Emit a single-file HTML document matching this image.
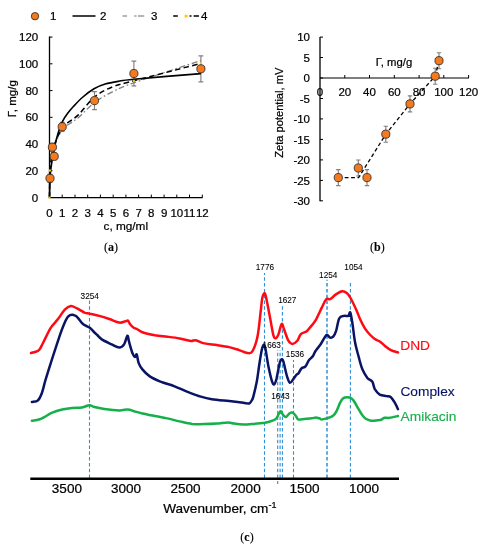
<!DOCTYPE html>
<html><head><meta charset="utf-8">
<style>
html,body{margin:0;padding:0;background:#fff;}
svg{display:block;}
text{font-family:"Liberation Sans",sans-serif;fill:#000;stroke:#000;stroke-width:0.22px;}
.cap{font-family:"Liberation Serif",serif;font-size:12px;stroke-width:0.1px;}
.t{font-size:11.5px;}
.u{font-size:12.9px;}
.s{font-size:8.4px;stroke-width:0.08px;}
.l{font-size:13px;stroke-width:0.12px;}
</style></head><body>
<svg width="484" height="550" viewBox="0 0 484 550">
<rect width="484" height="550" fill="#fff"/>
<g id="pa">
<circle cx="35" cy="16.2" r="3.7" fill="#f47a20" stroke="#222" stroke-width="0.8"/>
<text class="t" x="50" y="20.3">1</text>
<line x1="72.5" y1="16" x2="95.5" y2="16" stroke="#000" stroke-width="1.5"/>
<text class="t" x="100" y="20.3">2</text>
<path d="M122.5 16H127M134.3 16H136.5M138 16H144.2" stroke="#6e6e6e" stroke-width="1.2" fill="none"/>
<text class="t" x="151" y="20.3">3</text>
<path d="M173.2 16H177.8M189.5 16H191.5M193.6 16H199" stroke="#000" stroke-width="1.5" fill="none"/>
<rect x="184.6" y="14.7" width="3" height="2.8" fill="#fc0"/>
<text class="t" x="201" y="20.3">4</text>
<g stroke="#000" stroke-width="1.3" fill="none">
<path d="M49.5 36.5V197.6H202.6"/>
</g><g stroke="#000" stroke-width="1" fill="none">
<path d="M49.5 170.8h3M49.5 144.1h3M49.5 117.3h3M49.5 90.6h3M49.5 63.8h3M49.5 37.1h3M62.2 197.6v-3M75.0 197.6v-3M87.7 197.6v-3M100.4 197.6v-3M113.2 197.6v-3M125.9 197.6v-3M138.6 197.6v-3M151.3 197.6v-3M164.1 197.6v-3M176.8 197.6v-3M189.5 197.6v-3M202.3 197.6v-3"/>
</g>
<g text-anchor="end">
<text class="t" x="38.2" y="201.7">0</text>
<text class="t" x="38.2" y="174.9">20</text>
<text class="t" x="38.2" y="148.2">40</text>
<text class="t" x="38.2" y="121.4">60</text>
<text class="t" x="38.2" y="94.7">80</text>
<text class="t" x="38.2" y="67.9">100</text>
<text class="t" x="38.2" y="41.2">120</text>
</g><g text-anchor="middle">
<text class="t" x="49.5" y="216.7">0</text>
<text class="t" x="62.2" y="216.7">1</text>
<text class="t" x="75.0" y="216.7">2</text>
<text class="t" x="87.7" y="216.7">3</text>
<text class="t" x="100.4" y="216.7">4</text>
<text class="t" x="113.2" y="216.7">5</text>
<text class="t" x="125.9" y="216.7">6</text>
<text class="t" x="138.6" y="216.7">7</text>
<text class="t" x="151.3" y="216.7">8</text>
<text class="t" x="164.1" y="216.7">9</text>
<text class="t" x="176.8" y="216.7">10</text>
<text class="t" x="189.5" y="216.7">11</text>
<text class="t" x="202.3" y="216.7">12</text>
</g>
<text class="t" x="125.8" y="230.1" text-anchor="middle" style="font-size:11.8px">c, mg/ml</text>
<text class="t" transform="translate(16.2 98.7) rotate(-90)" text-anchor="middle">Γ, mg/g</text>
<text class="cap" x="111" y="251" text-anchor="middle">(<tspan font-weight="bold">a</tspan>)</text>
<g stroke="#808080" stroke-width="1.15" fill="none">
<path d="M50.0 174.3V182.3M47.6 174.3h4.8M47.6 182.3h4.8"/>
<path d="M52.4 143.2V151.2M50.0 143.2h4.8M50.0 151.2h4.8"/>
<path d="M54.2 153.4V159.4M51.8 153.4h4.8M51.8 159.4h4.8"/>
<path d="M62.2 122.3V131.3M59.8 122.3h4.8M59.8 131.3h4.8"/>
<path d="M94.5 91.6V109.6M92.1 91.6h4.8M92.1 109.6h4.8"/>
<path d="M133.9 61.1V85.9M131.5 61.1h4.8M131.5 85.9h4.8"/>
<path d="M200.9 55.8V81.8M198.5 55.8h4.8M198.5 81.8h4.8"/>
</g>
<path d="M49.5 197.6C49.6 193.3 49.5 179.6 50.0 172.0C50.5 164.4 51.7 156.3 52.4 152.0C53.1 147.7 52.6 149.8 54.2 146.0C55.8 142.2 59.6 133.2 62.2 129.5C64.8 125.8 67.3 125.5 70.0 123.5C72.7 121.5 74.5 120.9 78.6 117.4C82.7 113.9 88.7 106.9 94.5 102.5C100.3 98.1 107.0 94.5 113.6 91.2C120.2 87.9 119.4 87.9 133.9 82.8C148.5 77.7 189.7 64.2 200.9 60.5" fill="none" stroke="#7f7f7f" stroke-width="1.25" stroke-dasharray="6 2.6 1.6 2.6"/>
<path d="M49.5 197.6C49.6 193.1 49.5 178.3 50.0 170.5C50.5 162.7 51.7 155.2 52.4 151.0C53.1 146.8 52.6 148.9 54.2 145.0C55.8 141.1 59.6 131.5 62.2 127.5C64.8 123.5 67.3 123.4 70.0 121.2C72.7 119.0 74.5 118.6 78.6 114.6C82.7 110.6 88.9 101.6 94.5 97.0C100.1 92.4 105.8 89.6 112.4 86.9C119.0 84.2 119.2 84.7 133.9 80.8C148.7 76.9 189.7 66.3 200.9 63.4" fill="none" stroke="#000" stroke-width="1.5" stroke-dasharray="5.5 3.3"/>
<path d="M49.5 197.6C49.6 194.3 49.8 182.9 50.0 178.0C50.2 173.1 50.6 171.3 51.0 168.0C51.4 164.7 51.8 161.8 52.5 158.0C53.2 154.2 54.1 149.1 55.0 145.0C55.9 140.9 56.8 137.4 58.0 133.5C59.2 129.6 60.8 124.9 62.4 121.6C64.0 118.3 65.6 116.1 67.5 113.6C69.4 111.0 71.0 109.1 73.6 106.3C76.2 103.5 79.5 99.9 82.9 97.0C86.3 94.1 90.3 91.0 94.0 88.8C97.7 86.6 101.2 85.3 105.2 84.1C109.2 82.9 113.4 82.2 118.2 81.4C123.0 80.6 120.1 80.5 133.9 79.2C147.7 77.9 189.7 74.5 200.9 73.6" fill="none" stroke="#000" stroke-width="1.6"/>
<rect x="48.5" y="196.6" width="2" height="2" fill="#fc0"/>
<rect x="49.0" y="169.5" width="2" height="2" fill="#fc0"/>
<rect x="51.4" y="150.0" width="2" height="2" fill="#fc0"/>
<rect x="53.2" y="144.0" width="2" height="2" fill="#fc0"/>
<rect x="61.2" y="126.5" width="2" height="2" fill="#fc0"/>
<rect x="93.5" y="96.0" width="2" height="2" fill="#fc0"/>
<rect x="132.9" y="79.8" width="2" height="2" fill="#fc0"/>
<rect x="199.9" y="62.4" width="2" height="2" fill="#fc0"/>
<circle cx="50.0" cy="178.3" r="4.1" fill="#f47a20" stroke="#222" stroke-width="0.8"/>
<circle cx="52.4" cy="147.2" r="4.1" fill="#f47a20" stroke="#222" stroke-width="0.8"/>
<circle cx="54.2" cy="156.4" r="4.1" fill="#f47a20" stroke="#222" stroke-width="0.8"/>
<circle cx="62.2" cy="126.8" r="4.1" fill="#f47a20" stroke="#222" stroke-width="0.8"/>
<circle cx="94.5" cy="100.6" r="4.1" fill="#f47a20" stroke="#222" stroke-width="0.8"/>
<circle cx="133.9" cy="73.5" r="4.1" fill="#f47a20" stroke="#222" stroke-width="0.8"/>
<circle cx="200.9" cy="68.8" r="4.1" fill="#f47a20" stroke="#222" stroke-width="0.8"/>
</g>
<g id="pb">
<g stroke="#000" stroke-width="1.3" fill="none">
<path d="M320.0 37V201.2"/><path d="M320.0 78.0H469" stroke-width="1.05"/>
</g><g stroke="#000" stroke-width="1" fill="none">
<path d="M320.0 200.8h3M320.0 180.4h3M320.0 159.9h3M320.0 139.4h3M320.0 118.9h3M320.0 98.5h3M320.0 78.0h3M320.0 57.5h3M320.0 37.1h3M344.8 78.0v-3M369.5 78.0v-3M394.3 78.0v-3M419.1 78.0v-3M443.8 78.0v-3M468.6 78.0v-3"/>
</g>
<g text-anchor="end">
<text class="t" x="310" y="204.9">-30</text>
<text class="t" x="310" y="184.5">-25</text>
<text class="t" x="310" y="164.0">-20</text>
<text class="t" x="310" y="143.5">-15</text>
<text class="t" x="310" y="123.0">-10</text>
<text class="t" x="310" y="102.6">-5</text>
<text class="t" x="310" y="82.1">0</text>
<text class="t" x="310" y="61.6">5</text>
<text class="t" x="310" y="41.2">10</text>
</g><g text-anchor="middle">
<text class="t" x="320.0" y="95.6">0</text>
<text class="t" x="344.8" y="95.6">20</text>
<text class="t" x="369.5" y="95.6">40</text>
<text class="t" x="394.3" y="95.6">60</text>
<text class="t" x="419.1" y="95.6">80</text>
<text class="t" x="443.8" y="95.6">100</text>
<text class="t" x="468.6" y="95.6">120</text>
</g>
<text class="t" x="375.8" y="65.6" style="font-size:11.3px">Γ, mg/g</text>
<text class="t" transform="translate(282.8 112.7) rotate(-90)" text-anchor="middle" style="font-size:11.1px">Zeta potential, mV</text>
<text class="cap" x="377.3" y="251.2" text-anchor="middle">(<tspan font-weight="bold">b</tspan>)</text>
<g stroke="#808080" stroke-width="1.15" fill="none">
<path d="M338.3 169.6V185.6M336.1 169.6h4.4M336.1 185.6h4.4"/>
<path d="M358.3 160.0V176.0M356.1 160.0h4.4M356.1 176.0h4.4"/>
<path d="M367.0 169.6V185.6M364.8 169.6h4.4M364.8 185.6h4.4"/>
<path d="M385.8 126.2V142.2M383.6 126.2h4.4M383.6 142.2h4.4"/>
<path d="M410.0 95.9V111.9M407.8 95.9h4.4M407.8 111.9h4.4"/>
<path d="M435.2 68.2V84.2M433.0 68.2h4.4M433.0 84.2h4.4"/>
<path d="M439.0 52.7V68.7M436.8 52.7h4.4M436.8 68.7h4.4"/>
</g>
<path d="M338.3 177.6L358.6 177.6L385.8 134.2L410.0 103.9L435.2 76.2L439.0 60.7" fill="none" stroke="#000" stroke-width="1.3" stroke-dasharray="3.8 2.6"/>
<circle cx="338.3" cy="177.6" r="4.1" fill="#f47a20" stroke="#222" stroke-width="0.8"/>
<circle cx="358.3" cy="168.0" r="4.1" fill="#f47a20" stroke="#222" stroke-width="0.8"/>
<circle cx="367.0" cy="177.6" r="4.1" fill="#f47a20" stroke="#222" stroke-width="0.8"/>
<circle cx="385.8" cy="134.2" r="4.1" fill="#f47a20" stroke="#222" stroke-width="0.8"/>
<circle cx="410.0" cy="103.9" r="4.1" fill="#f47a20" stroke="#222" stroke-width="0.8"/>
<circle cx="435.2" cy="76.2" r="4.1" fill="#f47a20" stroke="#222" stroke-width="0.8"/>
<circle cx="439.0" cy="60.7" r="4.1" fill="#f47a20" stroke="#222" stroke-width="0.8"/>
</g>
<g id="pc">
<g stroke="#2f8fd6" stroke-width="1.1" stroke-dasharray="3.5 2.3" fill="none">
<path d="M89.5 478.0V300.0"/>
<path d="M264.5 478.0V273.0"/>
<path d="M277.7 478.0V350.0"/>
<path d="M280.1 478.0V350.0"/>
<path d="M282.4 478.0V306.0"/>
<path d="M293.5 478.0V360.0"/>
<path d="M350.4 478.0V282.0"/>
<path d="M277.7 481V484"/><path d="M327 478V279.8" stroke-width="1.5"/>
</g>
<path d="M31.9 420.8C33.2 420.6 37.6 420.0 39.8 419.3C41.9 418.6 42.7 418.0 44.8 416.9C46.9 415.8 49.3 413.8 52.2 412.6C55.1 411.4 58.9 410.3 62.2 409.5C65.5 408.7 68.7 408.3 72.0 408.0C75.3 407.7 79.1 408.0 82.0 407.5C84.9 407.0 87.3 405.3 89.4 405.2C91.5 405.1 91.9 406.4 94.4 407.0C96.9 407.6 100.2 408.3 104.3 408.9C108.4 409.5 115.3 410.3 119.2 410.4C123.1 410.5 125.4 409.3 127.9 409.4C130.4 409.5 131.6 410.5 134.0 411.2C136.4 411.9 138.9 412.7 142.4 413.5C145.9 414.3 150.7 415.2 154.8 416.0C158.9 416.8 163.1 417.5 167.2 418.4C171.3 419.3 175.5 420.5 179.6 421.4C183.7 422.3 187.9 423.4 192.0 423.9C196.1 424.3 200.3 424.2 204.4 424.1C208.5 424.1 212.9 423.9 216.8 423.6C220.7 423.3 225.1 422.4 228.0 422.4C230.9 422.4 231.3 423.2 234.0 423.6C236.7 424.0 240.9 424.5 244.0 424.6C247.1 424.7 248.9 424.3 252.4 424.0C255.9 423.7 261.5 423.2 264.8 422.7C268.1 422.1 270.2 421.4 272.2 420.7C274.1 420.0 275.1 419.9 276.5 418.3C277.9 416.7 279.2 411.9 280.3 411.3C281.4 410.7 282.1 413.9 283.0 414.8C283.9 415.8 284.8 417.2 285.9 417.0C287.0 416.8 288.5 414.0 289.6 413.3C290.7 412.6 291.6 412.2 292.6 412.6C293.6 413.0 294.9 414.7 295.8 415.8C296.8 416.9 296.9 419.0 298.3 419.5C299.8 420.0 302.2 419.2 304.5 419.0C306.8 418.8 310.0 418.6 311.9 418.3C313.8 418.1 314.4 417.5 315.6 417.5C316.8 417.5 318.3 418.0 319.3 418.3C320.3 418.6 320.6 419.5 321.8 419.5C323.1 419.5 324.9 418.9 326.8 418.3C328.7 417.7 331.4 417.1 333.0 415.8C334.6 414.6 335.5 413.1 336.7 410.8C337.9 408.5 339.3 404.3 340.4 402.2C341.5 400.1 342.1 399.0 343.2 398.2C344.3 397.4 345.6 397.2 347.0 397.2C348.4 397.2 350.1 397.4 351.3 398.2C352.6 399.0 353.5 400.5 354.5 402.0C355.5 403.5 356.5 405.6 357.5 407.3C358.5 409.0 359.6 410.9 360.5 412.3C361.4 413.8 362.1 414.9 363.0 416.0C363.9 417.1 364.5 418.0 365.8 418.8C367.1 419.6 369.1 420.4 371.0 420.7C372.9 420.9 375.5 420.5 377.2 420.3C378.9 420.1 380.1 420.1 381.3 419.7C382.5 419.3 383.0 418.1 384.4 417.8C385.8 417.5 387.3 418.1 389.6 417.8C391.9 417.5 396.6 416.3 398.0 416.0" fill="none" stroke="#16b04a" stroke-width="2.5" stroke-linejoin="round" stroke-linecap="round"/>
<path d="M31.9 402.0C32.9 401.7 36.4 401.8 38.0 400.3C39.6 398.9 40.5 396.7 41.8 393.3C43.1 389.9 44.1 384.6 45.6 379.7C47.1 374.8 49.0 368.7 50.6 363.6C52.2 358.5 53.6 354.1 55.2 349.3C56.8 344.5 58.6 338.9 60.0 334.8C61.4 330.7 62.5 327.8 63.7 324.9C64.9 322.0 66.4 319.0 67.4 317.4C68.5 315.8 69.2 315.6 70.0 315.2C70.8 314.8 71.6 314.6 72.4 314.7C73.2 314.8 74.0 315.1 74.8 315.5C75.6 315.9 76.2 316.0 77.4 317.3C78.7 318.6 80.9 322.0 82.3 323.4C83.7 324.8 84.8 325.2 86.0 325.9C87.2 326.6 88.5 326.9 89.8 327.8C91.0 328.7 92.3 330.3 93.5 331.5C94.7 332.7 95.8 333.7 97.2 335.0C98.6 336.3 99.4 337.8 101.8 339.4C104.2 341.0 108.8 343.0 111.7 344.4C114.6 345.8 117.1 347.6 119.2 347.6C121.3 347.6 122.7 346.4 124.1 344.4C125.5 342.4 126.6 336.1 127.4 335.7C128.2 335.3 128.2 339.0 129.1 341.9C129.9 344.8 131.5 350.8 132.5 353.3C133.5 355.8 134.3 356.8 135.0 357.0C135.7 357.2 136.1 353.5 136.7 354.5C137.3 355.5 137.8 360.7 138.7 363.2C139.6 365.7 140.6 367.2 142.4 369.4C144.2 371.6 146.9 374.4 149.8 376.4C152.7 378.4 155.7 379.6 159.8 381.3C163.9 383.0 170.1 384.6 174.6 386.3C179.1 388.0 182.9 390.1 187.0 391.7C191.1 393.3 195.3 394.9 199.4 396.2C203.5 397.4 206.8 398.4 211.8 399.2C216.8 400.0 224.2 400.4 229.2 400.9C234.2 401.4 238.8 402.0 241.6 402.4C244.4 402.8 244.7 403.0 246.0 403.2C247.3 403.4 248.5 403.9 249.5 403.4C250.5 402.9 251.3 401.3 252.0 400.0C252.7 398.7 252.8 398.8 253.6 395.6C254.4 392.4 255.9 386.1 256.9 380.9C257.8 375.7 258.5 369.7 259.3 364.5C260.1 359.3 261.1 353.1 261.8 349.8C262.5 346.6 263.0 345.2 263.6 345.0C264.2 344.8 264.6 344.9 265.4 348.5C266.2 352.1 267.4 361.4 268.5 366.7C269.6 372.0 270.8 377.3 271.7 380.3C272.6 383.3 273.2 384.8 274.0 384.6C274.8 384.4 275.4 382.7 276.4 379.1C277.3 375.5 278.8 366.3 279.7 363.0C280.6 359.7 281.1 359.5 281.7 359.3C282.3 359.1 282.5 358.8 283.4 361.7C284.3 364.6 286.0 373.1 287.1 376.6C288.2 380.1 288.9 382.4 289.9 382.8C290.9 383.2 292.1 380.7 293.2 379.3C294.3 377.9 295.7 375.6 296.6 374.6C297.5 373.6 297.8 374.2 298.6 373.2C299.4 372.2 300.2 369.6 301.4 368.5C302.5 367.4 304.2 367.7 305.5 366.3C306.8 364.9 307.6 362.0 308.9 360.3C310.1 358.6 311.9 357.6 313.0 356.0C314.1 354.4 314.4 352.7 315.7 350.8C316.9 348.9 319.0 346.7 320.5 344.5C322.0 342.3 323.4 339.4 324.5 337.8C325.6 336.2 326.1 334.7 327.0 334.7C327.9 334.7 328.9 337.3 330.0 337.6C331.1 337.9 332.4 337.4 333.4 336.3C334.4 335.2 335.1 333.9 336.1 330.9C337.1 327.9 337.9 321.0 339.2 318.5C340.5 316.0 342.6 316.3 344.1 315.9C345.6 315.5 347.4 316.4 348.4 315.9C349.4 315.3 349.6 311.2 350.3 312.6C351.0 314.0 351.7 319.1 352.5 324.0C353.3 328.9 354.0 336.5 355.0 342.0C356.0 347.5 357.5 352.3 358.7 356.9C359.9 361.4 360.9 365.8 362.4 369.3C363.8 372.8 365.8 375.8 367.4 377.9C369.0 380.0 371.1 379.8 372.3 381.7C373.5 383.6 373.6 387.0 374.8 389.1C376.1 391.2 377.9 393.4 379.8 394.6C381.8 395.8 384.7 395.7 386.5 396.1C388.3 396.5 389.2 395.8 390.6 396.9C392.0 398.0 393.6 400.6 394.8 402.7C396.0 404.8 397.5 408.1 398.0 409.2" fill="none" stroke="#0a1464" stroke-width="2.5" stroke-linejoin="round" stroke-linecap="round"/>
<path d="M31.0 353.0C31.8 352.8 34.2 352.3 35.6 351.8C37.0 351.3 38.1 351.3 39.3 349.8C40.5 348.3 41.1 346.6 43.0 343.0C44.9 339.4 48.0 332.2 50.4 328.3C52.8 324.4 55.2 322.7 57.6 319.6C60.0 316.5 62.6 312.0 64.8 309.7C67.0 307.4 68.8 306.2 70.8 306.0C72.8 305.8 74.7 307.3 77.0 308.4C79.3 309.5 82.4 311.7 84.5 312.6C86.6 313.5 86.9 313.1 89.4 313.6C91.9 314.2 96.0 315.0 99.3 315.9C102.6 316.8 106.0 317.9 109.3 319.0C112.6 320.1 116.5 322.2 119.2 322.6C121.9 323.0 124.0 321.6 125.4 321.3C126.9 321.0 127.1 320.1 127.9 320.6C128.7 321.1 129.3 323.3 130.3 324.5C131.3 325.7 132.5 327.0 133.7 327.8C134.9 328.6 135.9 328.6 137.4 329.3C138.9 330.0 139.5 331.2 142.4 332.2C145.3 333.2 150.7 334.4 154.8 335.2C158.9 335.9 163.1 336.2 167.2 336.7C171.3 337.2 175.7 337.7 179.6 338.4C183.5 339.1 188.0 340.6 190.7 340.9C193.4 341.2 193.4 339.8 195.7 340.2C198.0 340.6 200.9 342.6 204.4 343.4C207.9 344.2 212.7 344.5 216.8 345.1C220.9 345.7 225.5 346.3 229.2 347.1C232.9 347.9 236.1 349.1 239.1 350.1C242.1 351.1 245.2 352.8 247.4 353.0C249.6 353.2 250.7 354.0 252.4 351.3C254.1 348.6 256.0 343.5 257.4 337.0C258.8 330.5 259.8 318.6 260.6 312.2C261.4 305.8 261.6 301.6 262.2 298.5C262.8 295.4 263.6 293.6 264.2 293.3C264.8 293.1 265.0 292.8 266.0 297.0C267.0 301.2 268.9 311.9 270.2 318.4C271.4 324.8 272.5 332.4 273.5 335.7C274.5 339.0 275.2 338.4 276.0 338.2C276.8 338.0 277.4 336.9 278.4 334.5C279.3 332.1 280.8 324.8 281.7 324.0C282.6 323.2 283.0 326.7 284.1 329.5C285.2 332.3 287.0 338.3 288.4 340.7C289.8 343.1 291.0 343.9 292.5 343.9C294.0 343.9 296.1 342.2 297.3 340.8C298.6 339.4 299.2 336.6 300.0 335.3C300.8 334.1 300.9 334.0 302.0 333.3C303.1 332.6 305.3 332.4 306.8 331.2C308.3 330.0 309.4 328.2 310.9 326.4C312.4 324.6 313.9 323.3 315.7 320.2C317.5 317.1 320.1 311.1 321.8 307.6C323.6 304.1 324.8 300.7 326.2 299.3C327.6 297.9 328.9 299.8 330.5 299.0C332.1 298.2 333.6 295.9 335.5 294.6C337.4 293.3 340.3 291.5 342.2 291.2C344.1 290.9 345.4 291.9 346.8 293.0C348.2 294.1 349.0 295.3 350.5 298.0C352.0 300.7 354.2 305.3 355.9 309.0C357.6 312.7 359.1 317.1 360.6 320.3C362.1 323.5 363.4 326.0 364.9 328.4C366.4 330.8 368.1 332.7 369.8 334.5C371.5 336.3 373.1 337.8 374.8 339.0C376.5 340.2 378.2 340.4 379.8 341.5C381.4 342.6 382.9 344.2 384.7 345.7C386.5 347.1 388.7 349.1 390.9 350.2C393.1 351.3 396.8 352.0 398.0 352.4" fill="none" stroke="#ff0a14" stroke-width="2.5" stroke-linejoin="round" stroke-linecap="round"/>
<path d="M30.3 478.8H399" stroke="#000" stroke-width="2.5"/>
<g text-anchor="middle">
<text class="u" transform="translate(66.9 493.1) scale(1.05 1)">3500</text>
<text class="u" transform="translate(126.0 493.1) scale(1.05 1)">3000</text>
<text class="u" transform="translate(185.5 493.1) scale(1.05 1)">2500</text>
<text class="u" transform="translate(245.6 493.1) scale(1.05 1)">2000</text>
<text class="u" transform="translate(304.5 493.1) scale(1.05 1)">1500</text>
<text class="u" transform="translate(364.0 493.1) scale(1.05 1)">1000</text>
<text class="s" transform="translate(89.7 298.8) scale(0.98 1)">3254</text>
<text class="s" transform="translate(264.9 270.1) scale(0.98 1)">1776</text>
<text class="s" transform="translate(353.5 270.1) scale(0.98 1)">1054</text>
<text class="s" transform="translate(328.2 278.1) scale(0.98 1)">1254</text>
<text class="s" transform="translate(287.3 302.6) scale(0.98 1)">1627</text>
<text class="s" transform="translate(271.7 347.9) scale(0.98 1)">1663</text>
<text class="s" transform="translate(295.0 357.3) scale(0.98 1)">1536</text>
<text class="s" transform="translate(280.4 398.7) scale(0.98 1)">1643</text>
</g>
<text class="u" x="163.2" y="512.8" style="font-size:13.6px">Wavenumber, cm<tspan font-size="9" dy="-5">-1</tspan></text>
<text class="l" transform="translate(400.2 350) scale(1.06 1)" style="fill:#ff0a14;stroke:#ff0a14">DND</text>
<text class="l" transform="translate(400.4 395.8) scale(1.06 1)" style="fill:#0a1464;stroke:#0a1464">Complex</text>
<text class="l" transform="translate(400.6 420.9) scale(1.06 1)" style="fill:#16b04a;stroke:#16b04a">Amikacin</text>
<text class="cap" x="247" y="541" text-anchor="middle">(<tspan font-weight="bold">c</tspan>)</text>
</g>
</svg>
</body></html>
